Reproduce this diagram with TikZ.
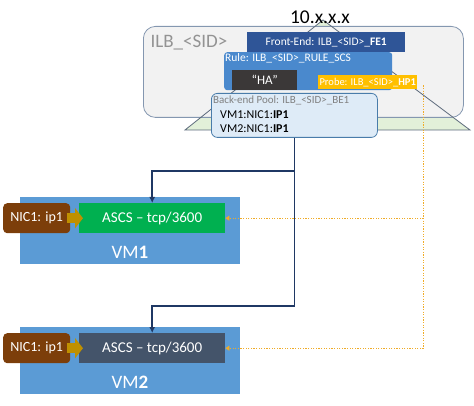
\documentclass[tikz,border=0pt]{standalone}
\usepackage{fontspec}
\setmainfont{Carlito}
\usetikzlibrary{positioning, calc, arrows.meta}
\definecolor{vmBlue}{RGB}{91, 155, 213}
\definecolor{ruleBlue}{RGB}{74, 137, 205}
\definecolor{feBlue}{RGB}{47, 85, 151}
\definecolor{ascsGreen}{RGB}{0, 176, 80}
\definecolor{ascsSlate}{RGB}{68, 84, 106}
\definecolor{nicBrown}{RGB}{124, 62, 10}
\definecolor{arrowGold}{RGB}{191, 144, 0}
\definecolor{probeYel}{RGB}{255, 192, 0}
\definecolor{dotYel}{RGB}{240, 172, 40}
\definecolor{linkNavy}{RGB}{31, 56, 100}
\definecolor{ilbGray}{RGB}{242, 242, 242}
\definecolor{ilbEdge}{RGB}{132, 151, 176}
\definecolor{triGreen}{RGB}{226, 240, 217}
\definecolor{poolFill}{RGB}{222, 235, 247}
\definecolor{haGray}{RGB}{59, 56, 56}

\begin{document}
\begin{tikzpicture}[x=1pt, y=-1pt,
    box/.style={inner sep=0, anchor=north west, text=white},
    fs/.style={font={\fontsize{#1}{#1}\selectfont}},
    link/.style={linkNavy, line width=1.6pt, -{Latex[length=6pt, width=6pt]}},
    probeline/.style={dotYel, line width=0.9pt, dash pattern=on 1.2pt off 1.4pt,
      -{Triangle[length=4pt, width=5pt]}},
    nicarrow/.style={arrowGold, line width=10pt, -{Triangle[length=8pt, width=20pt]}}]
  \useasboundingbox (0,0) rectangle (474,406);

  % load balancer
  \coordinate (apex) at (323,20);
  \coordinate (baseL) at (185,130);
  \coordinate (baseR) at (470,130);
  \fill[triGreen] (apex) -- (baseL) -- (baseR) -- cycle;
  \node[box, fill=ilbGray, draw=ilbEdge, line width=0.8pt, rounded corners=12pt,
    minimum width=320, minimum height=91] (ilb) at (143,26) {};
  \draw[ilbEdge!70!black, line width=0.8pt] (apex) -- (baseL) -- (baseR) -- cycle;
  \node[anchor=west, text=gray!85, fs=19] (ilbname) at (147,43) {ILB\_<SID>};
  \node[fs=19.5] (vip) at (320,17) {10.x.x.x};

  \node[box, fill=feBlue, minimum width=158, minimum height=20] (fe) at (247,32) {};
  \node[text=white, fs=11.5] (fetxt) at (fe.center) {Front-End: ILB\_<SID>\_\textbf{FE1}};

  \node[box, fill=ruleBlue, rounded corners=3pt, minimum width=168, minimum height=38] (rule) at (224,52) {};
  \node[anchor=north west, inner sep=1pt, text=white, fs=11.5] (ruletxt) at (rule.north west) {Rule: ILB\_<SID>\_RULE\_SCS};
  \node[box, fill=haGray, minimum width=65, minimum height=20] (ha) at (232,70) {};
  \node[text=white, fs=13] (hatxt) at (ha.center) {“HA”};
  \node[box, fill=probeYel, minimum width=99, minimum height=14] (probe) at (318,75) {};
  \node[text=white, fs=10.5] (probetxt) at (probe.center) {Probe: ILB\_<SID>\_\textbf{HP1}};

  % back-end pool
  \node[box, fill=poolFill, draw=vmBlue!80!black, line width=0.8pt, rounded corners=6pt,
    minimum width=166, minimum height=44] (pool) at (211,93) {};
  \node[anchor=north west, inner sep=1pt, text=gray, fs=11] (pooltxt) at ($(pool.north west)+(1,2)$) {Back-end Pool: ILB\_<SID>\_BE1};
  \node[anchor=north west, inner sep=1pt, fs=12] (poolvm1) at ($(pooltxt.south west)+(7,3)$) {VM1:NIC1:\textbf{IP1}};
  \node[anchor=north west, inner sep=1pt, fs=12] (poolvm2) at ($(poolvm1.south west)+(0,4)$) {VM2:NIC1:\textbf{IP1}};

  % VM1
  \node[box, fill=vmBlue, minimum width=220, minimum height=67] (vm1) at (20,197) {};
  \node[text=white, fs=19] (vm1txt) at (130,252) {VM\textbf{1}};
  \node[box, fill=ascsGreen, minimum width=146, minimum height=30, fs=15] (ascs1) at (79,203) {ASCS -- tcp/3600};
  \node[box, fill=nicBrown, rounded corners=4pt, minimum width=67, minimum height=30, fs=14] (nic1) at (3,203) {NIC1: ip1};

  % VM2
  \node[box, fill=vmBlue, minimum width=220, minimum height=67] (vm2) at (20,327) {};
  \node[text=white, fs=19] (vm2txt) at (130,382) {VM\textbf{2}};
  \node[box, fill=ascsSlate, minimum width=146, minimum height=30, fs=15] (ascs2) at (79,333) {ASCS -- tcp/3600};
  \node[box, fill=nicBrown, rounded corners=4pt, minimum width=67, minimum height=30, fs=14] (nic2) at (3,333) {NIC1: ip1};

  % nic arrows
  \draw[nicarrow] ($(nic1.east)+(-3,0)$) -- ($(ascs1.west)+(4,0)$);
  \draw[nicarrow] ($(nic2.east)+(-3,0)$) -- ($(ascs2.west)+(4,0)$);

  % pool to vms
  \draw[link] (pool.south) -- ++(0,33) -| (ascs1.north);
  \draw[link] (pool.south) -- ++(0,168) -| (ascs2.north);

  % health probe
  \coordinate (ptap) at ($(probe.south east)+(6,-4)$);
  \draw[probeline] (ptap) |- (ascs1.east);
  \draw[probeline] (ptap) |- (ascs2.east);
\end{tikzpicture}
\end{document}
